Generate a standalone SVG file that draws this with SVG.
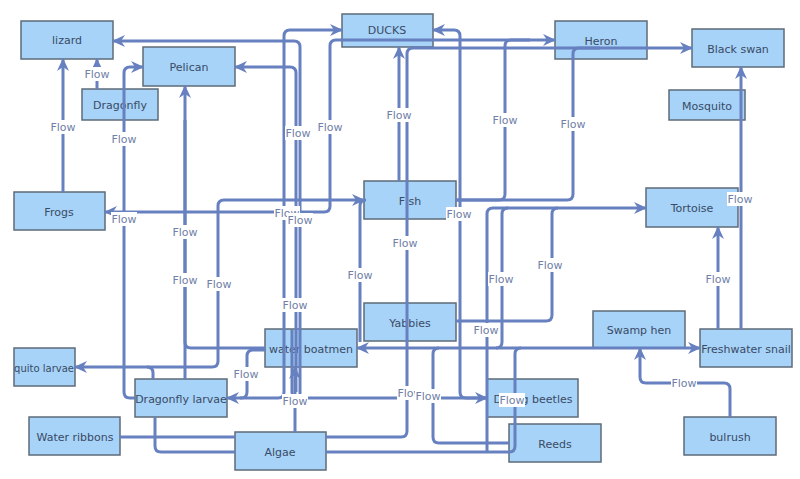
<svg xmlns="http://www.w3.org/2000/svg" width="800" height="479" viewBox="0 0 800 479">
<style>
.n rect{fill:#a6d3f7;stroke:#5e6b78;stroke-width:1.5}
.n text{font-family:"DejaVu Sans",sans-serif;font-size:11px;fill:#3a4a66;text-anchor:middle;dominant-baseline:central}
.c path{fill:none;stroke:#6680c0;stroke-width:3}
.l rect{fill:#fff}
.l text{font-family:"DejaVu Sans",sans-serif;font-size:11px;fill:#7080a8;text-anchor:middle;dominant-baseline:central}
</style>
<defs>
<marker id="a" markerUnits="userSpaceOnUse" markerWidth="14" markerHeight="14" refX="12" refY="7" orient="auto-start-reverse"><path d="M0,1 L13,7 L0,13 L4,7 Z" fill="#6680c0"/></marker>
</defs>
<rect width="800" height="479" fill="#fff"/>
<g class="n">
<g id="lizard"><rect x="21" y="21" width="92" height="38"/><text x="67" y="40">lizard</text></g>
<g id="pelican"><rect x="143" y="47" width="92" height="39"/><text x="189" y="67">Pelican</text></g>
<g id="dragonfly"><rect x="82" y="89" width="76" height="31"/><text x="120" y="105">Dragonfly</text></g>
<g id="frogs"><rect x="14" y="192" width="91" height="38"/><text x="59" y="212">Frogs</text></g>
<g id="ducks"><rect x="342" y="14" width="91" height="33"/><text x="387" y="30">DUCKS</text></g>
<g id="heron"><rect x="555" y="21" width="92" height="38"/><text x="601" y="41">Heron</text></g>
<g id="blackswan"><rect x="692" y="29" width="92" height="38"/><text x="738" y="49">Black swan</text></g>
<g id="mosquito"><rect x="669" y="90" width="76" height="30"/><text x="707" y="106">Mosquito</text></g>
<g id="fish"><rect x="364" y="181" width="92" height="38"/><text x="410" y="201">FIsh</text></g>
<g id="tortoise"><rect x="646" y="188" width="92" height="39"/><text x="692" y="208">Tortoise</text></g>
<g id="yabbies"><rect x="364" y="303" width="92" height="38"/><text x="410" y="323">Yabbies</text></g>
<g id="boatmen"><rect x="265" y="329" width="92" height="38"/><text x="311" y="349">water boatmen</text></g>
<g id="swamphen"><rect x="593" y="311" width="92" height="37"/><text x="639" y="330">Swamp hen</text></g>
<g id="snail"><rect x="700" y="329" width="92" height="38"/><text x="746" y="349">Freshwater snail</text></g>
<g id="mlarvae"><rect x="14" y="348" width="61" height="38"/><text x="44" y="368" style="font-size:10px">quito larvae</text></g>
<g id="dlarvae"><rect x="135" y="379" width="92" height="38"/><text x="181" y="399">Dragonfly larvae</text></g>
<g id="ribbons"><rect x="29" y="417" width="91" height="38"/><text x="75" y="437">Water ribbons</text></g>
<g id="algae"><rect x="235" y="432" width="91" height="38"/><text x="280" y="452">Algae</text></g>
<g id="beetles"><rect x="487" y="379" width="91" height="38"/><text x="533" y="399">Diving beetles</text></g>
<g id="reeds"><rect x="509" y="424" width="92" height="38"/><text x="555" y="444">Reeds</text></g>
<g id="bulrush"><rect x="684" y="417" width="92" height="38"/><text x="730" y="437">bulrush</text></g>
</g>
<g class="c">
<path d="M63,192 V59" marker-end="url(#a)"/>
<path d="M97,89 V59" stroke-width="2" marker-end="url(#a)"/>
<path d="M135,398 H130 Q124,398 124,392 V73 Q124,67 130,67 H143" marker-end="url(#a)"/>
<path d="M300,398 V47 Q300,41 294,41 H113" marker-end="url(#a)"/>
<path d="M296,392 V73 Q296,67 290,67 H235" marker-end="url(#a)"/>
<path d="M292,330 V392 Q292,398 298,398 H487" marker-end="url(#a)"/>
<path d="M105,212 H324 Q330,212 330,206 V46 Q330,40 336,40 H555" marker-start="url(#a)" marker-end="url(#a)"/>
<path d="M75,367 H212 Q218,367 218,361 V206 Q218,200 224,200 H364" marker-start="url(#a)" marker-end="url(#a)"/>
<path d="M153,379 V373 Q153,367 147,367"/>
<path d="M185,379 V86" marker-end="url(#a)"/>
<path d="M265,348 H191 Q185,348 185,342 V120"/>
<path d="M265,350 H253 Q247,350 247,356 V392 Q247,398 241,398 H227" marker-end="url(#a)"/>
<path d="M240,398 H278 Q284,398 284,392 V36 Q284,30 290,30 H342" marker-end="url(#a)"/>
<path d="M399,181 V47" marker-end="url(#a)"/>
<path d="M326,437 H401 Q407,437 407,431 V54 Q407,48 413,48 H692" marker-end="url(#a)"/>
<path d="M487,398 H466 Q460,398 460,392 V36 Q460,30 454,30 H433" marker-end="url(#a)"/>
<path d="M456,200 H499 Q505,200 505,194 V46 Q505,40 511,40 H530"/>
<path d="M456,200 H567 Q573,200 573,194 V54 Q573,48 579,48 H600"/>
<path d="M487,452 V214 Q487,208 493,208 H646" marker-end="url(#a)"/>
<path d="M456,321 H546 Q552,321 552,315 V214 Q552,208 558,208"/>
<path d="M496,348 Q502,348 502,342 V214 Q502,208 508,208"/>
<path d="M357,348 H700" marker-start="url(#a)" marker-end="url(#a)"/>
<path d="M360,342 V206 Q360,200 366,200"/>
<path d="M509,443 H439 Q433,443 433,437 V354 Q433,348 439,348"/>
<path d="M326,452 H509 Q515,452 515,446 V354 Q515,348 521,348"/>
<path d="M120,437 H235"/>
<path d="M155,417 V446 Q155,452 161,452 H235"/>
<path d="M295,432 V367" marker-end="url(#a)"/>
<path d="M730,417 V389 Q730,383 724,383 H646 Q640,383 640,377 V348" marker-end="url(#a)"/>
<path d="M718,329 V227" marker-end="url(#a)"/>
<path d="M741,329 V67" marker-end="url(#a)"/>
</g>
<g class="l">
<g><rect x="84" y="67" width="26" height="14"/><text x="97" y="74">Flow</text></g>
<g><rect x="50" y="120" width="26" height="14"/><text x="63" y="127">Flow</text></g>
<g><rect x="111" y="132" width="26" height="14"/><text x="124" y="139">Flow</text></g>
<g><rect x="285" y="126" width="26" height="14"/><text x="298" y="133">Flow</text></g>
<g><rect x="317" y="120" width="26" height="14"/><text x="330" y="127">Flow</text></g>
<g><rect x="386" y="108" width="26" height="14"/><text x="399" y="115">Flow</text></g>
<g><rect x="492" y="113" width="26" height="14"/><text x="505" y="120">Flow</text></g>
<g><rect x="560" y="117" width="26" height="14"/><text x="573" y="124">Flow</text></g>
<g><rect x="111" y="212" width="26" height="14"/><text x="124" y="219">Flow</text></g>
<g><rect x="274" y="206" width="26" height="14"/><text x="287" y="213">Flow</text></g>
<g><rect x="287" y="213" width="26" height="14"/><text x="300" y="220">Flow</text></g>
<g><rect x="446" y="207" width="26" height="14"/><text x="459" y="214">Flow</text></g>
<g><rect x="727" y="192" width="26" height="14"/><text x="740" y="199">Flow</text></g>
<g><rect x="172" y="225" width="26" height="14"/><text x="185" y="232">Flow</text></g>
<g><rect x="392" y="236" width="26" height="14"/><text x="405" y="243">Flow</text></g>
<g><rect x="537" y="258" width="26" height="14"/><text x="550" y="265">Flow</text></g>
<g><rect x="172" y="273" width="26" height="14"/><text x="185" y="280">Flow</text></g>
<g><rect x="206" y="277" width="26" height="14"/><text x="219" y="284">Flow</text></g>
<g><rect x="347" y="268" width="26" height="14"/><text x="360" y="275">Flow</text></g>
<g><rect x="488" y="272" width="26" height="14"/><text x="501" y="279">Flow</text></g>
<g><rect x="705" y="272" width="26" height="14"/><text x="718" y="279">Flow</text></g>
<g><rect x="282" y="298" width="26" height="14"/><text x="295" y="305">Flow</text></g>
<g><rect x="473" y="323" width="26" height="14"/><text x="486" y="330">Flow</text></g>
<g><rect x="233" y="367" width="26" height="14"/><text x="246" y="374">Flow</text></g>
<g><rect x="282" y="394" width="26" height="14"/><text x="295" y="401">Flow</text></g>
<g><rect x="397" y="386" width="26" height="14"/><text x="410" y="393">Flow</text></g>
<g><rect x="415" y="389" width="26" height="14"/><text x="428" y="396">Flow</text></g>
<g><rect x="499" y="393" width="26" height="14"/><text x="512" y="400">Flow</text></g>
<g><rect x="671" y="376" width="26" height="14"/><text x="684" y="383">Flow</text></g>
</g>
</svg>
